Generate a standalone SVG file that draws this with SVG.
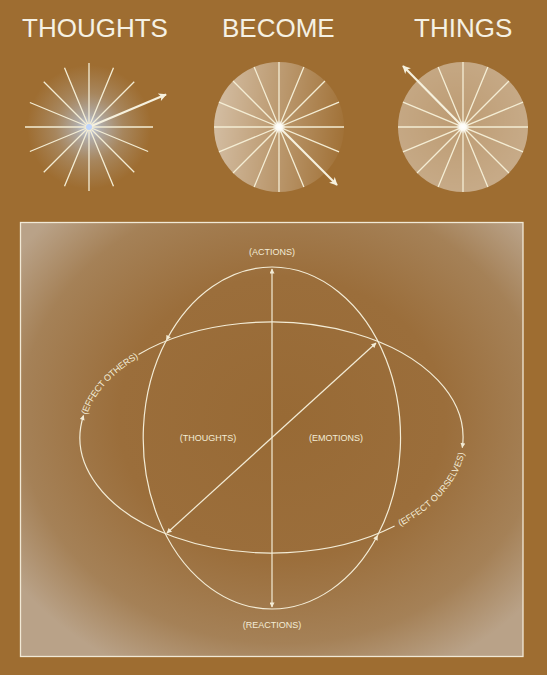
<svg xmlns="http://www.w3.org/2000/svg" width="547" height="675" viewBox="0 0 547 675">
<style>
.title{font-family:"Liberation Sans",Arial,sans-serif;font-size:26px;fill:#f5f1e4}
.lbl{font-family:"Liberation Sans",Arial,sans-serif;font-size:9px;fill:#f3ecd6}
.ray{stroke:#f4edd4;stroke-width:1.3;fill:none}
.big{stroke:#f6f1de;stroke-width:2.2;fill:none}
.ln{stroke:#f3ecd6;stroke-width:1.2;fill:none}
</style>
<defs>
<radialGradient id="inner" cx="52%" cy="45%" r="65%">
<stop offset="0" stop-color="#986a35"/>
<stop offset="0.5" stop-color="#9b6e3b"/>
<stop offset="0.8" stop-color="#a58157"/>
<stop offset="1" stop-color="#b9a288"/>
</radialGradient>
<radialGradient id="glow1" cx="0.5" cy="0.5" r="0.5">
<stop offset="0" stop-color="#c8dcff" stop-opacity="0.95"/>
<stop offset="0.2" stop-color="#b9cbe4" stop-opacity="0.65"/>
<stop offset="0.55" stop-color="#bcc0c4" stop-opacity="0.3"/>
<stop offset="1" stop-color="#bcbab4" stop-opacity="0"/>
</radialGradient>
<linearGradient id="disc2" x1="0" y1="0.45" x2="1" y2="0.55">
<stop offset="0" stop-color="#ffffff" stop-opacity="0.55"/>
<stop offset="0.5" stop-color="#ffffff" stop-opacity="0.3"/>
<stop offset="1" stop-color="#ffffff" stop-opacity="0.03"/>
</linearGradient>
<radialGradient id="disc3" cx="0.45" cy="0.45" r="0.55">
<stop offset="0" stop-color="#ffffff" stop-opacity="0.32"/>
<stop offset="1" stop-color="#ffffff" stop-opacity="0.42"/>
</radialGradient>
<radialGradient id="dot" cx="0.5" cy="0.5" r="0.5">
<stop offset="0" stop-color="#ffffff" stop-opacity="1"/>
<stop offset="0.4" stop-color="#ffffff" stop-opacity="0.8"/>
<stop offset="1" stop-color="#ffffff" stop-opacity="0"/>
</radialGradient>
<marker id="ah" viewBox="0 0 10 10" refX="9" refY="5" markerWidth="6" markerHeight="5" markerUnits="userSpaceOnUse" orient="auto-start-reverse">
<path d="M0,0 L10,5 L0,10 z" fill="#f3ecd6"/>
</marker>
<marker id="bh" viewBox="0 0 10 10" refX="9" refY="5" markerWidth="11" markerHeight="8" markerUnits="userSpaceOnUse" orient="auto">
<path d="M0,0 L10,5 L0,10 L2.5,5 z" fill="#f6f1de"/>
</marker>
<path id="tpL" d="M83.5,415.5 A191.5,115.5 0 0 1 138.5,354.4"/>
<path id="tpR" d="M394.6,526 A191.5,115.5 0 0 0 462.3,447.6"/>
</defs>

<rect width="547" height="675" fill="#9e6d31"/>

<g id="titles">
<text class="title" x="22" y="37">THOUGHTS</text>
<text class="title" x="222" y="37">BECOME</text>
<text class="title" x="414" y="37">THINGS</text>
</g>

<g id="burst1" transform="translate(89,127)">
<circle r="62" fill="url(#glow1)"/>
<path class="ray" d="M-64,0H64M-59.13,-24.49L59.13,24.49M-45.25,-45.25L45.25,45.25M-24.49,-59.13L24.49,59.13M0,-64V64M24.49,-59.13L-24.49,59.13M45.25,-45.25L-45.25,45.25M0,0L-59.13,24.49"/>
<line class="big" x1="0" y1="0" x2="77" y2="-32.5" marker-end="url(#bh)"/>
<circle r="3" fill="#b8d0ff" opacity="0.9"/>
</g>

<g id="burst2" transform="translate(279,127)">
<circle r="65" fill="url(#disc2)"/>
<path class="ray" d="M-65,0H65M-60.05,-24.87L60.05,24.87M-45.96,-45.96L0,0M-24.87,-60.05L24.87,60.05M0,-65V65M24.87,-60.05L-24.87,60.05M45.96,-45.96L-45.96,45.96M60.05,-24.87L-60.05,24.87"/>
<line class="big" x1="0" y1="0" x2="58" y2="58" marker-end="url(#bh)"/>
<circle r="7" fill="url(#dot)"/>
</g>

<g id="burst3" transform="translate(463,127)">
<circle r="65" fill="url(#disc3)"/>
<path class="ray" d="M-65,0H65M-60.05,-24.87L60.05,24.87M0,0L45.96,45.96M-24.87,-60.05L24.87,60.05M0,-65V65M24.87,-60.05L-24.87,60.05M45.96,-45.96L-45.96,45.96M60.05,-24.87L-60.05,24.87"/>
<line class="big" x1="0" y1="0" x2="-60" y2="-61" marker-end="url(#bh)"/>
<circle r="7" fill="url(#dot)"/>
</g>

<rect id="panel" x="20.5" y="222.5" width="502.5" height="434" fill="url(#inner)" stroke="#f1e9d6" stroke-width="1.3"/>

<g id="connectors">
<path class="ln" d="M377.5,535.5 A129,171 0 0 0 272,267 A129,171 0 0 0 166.5,340" marker-end="url(#ah)"/>
<path class="ln" d="M166.5,340 A129,171 0 0 0 272,609 A129,171 0 0 0 377.5,535.5" marker-end="url(#ah)"/>
<path class="ln" d="M138.5,354.4 A191.5,115.5 0 0 1 462.3,447.6" marker-end="url(#ah)"/>
<path class="ln" d="M394.6,526 A191.5,115.5 0 0 1 83.5,415.5" marker-end="url(#ah)"/>
<line class="ln" x1="272" y1="269" x2="272" y2="607" marker-start="url(#ah)" marker-end="url(#ah)"/>
<line class="ln" x1="167" y1="533" x2="376" y2="343" marker-start="url(#ah)" marker-end="url(#ah)"/>
</g>

<g id="labels">
<text class="lbl" x="272" y="255" text-anchor="middle">(ACTIONS)</text>
<text class="lbl" x="208" y="441" text-anchor="middle">(THOUGHTS)</text>
<text class="lbl" x="336" y="441" text-anchor="middle">(EMOTIONS)</text>
<text class="lbl" x="272" y="628" text-anchor="middle">(REACTIONS)</text>
<text class="lbl" dy="3"><textPath href="#tpL" startOffset="50%" text-anchor="middle">(EFFECT OTHERS)</textPath></text>
<text class="lbl" dy="3"><textPath href="#tpR" startOffset="50%" text-anchor="middle">(EFFECT OURSELVES)</textPath></text>
</g>
</svg>
